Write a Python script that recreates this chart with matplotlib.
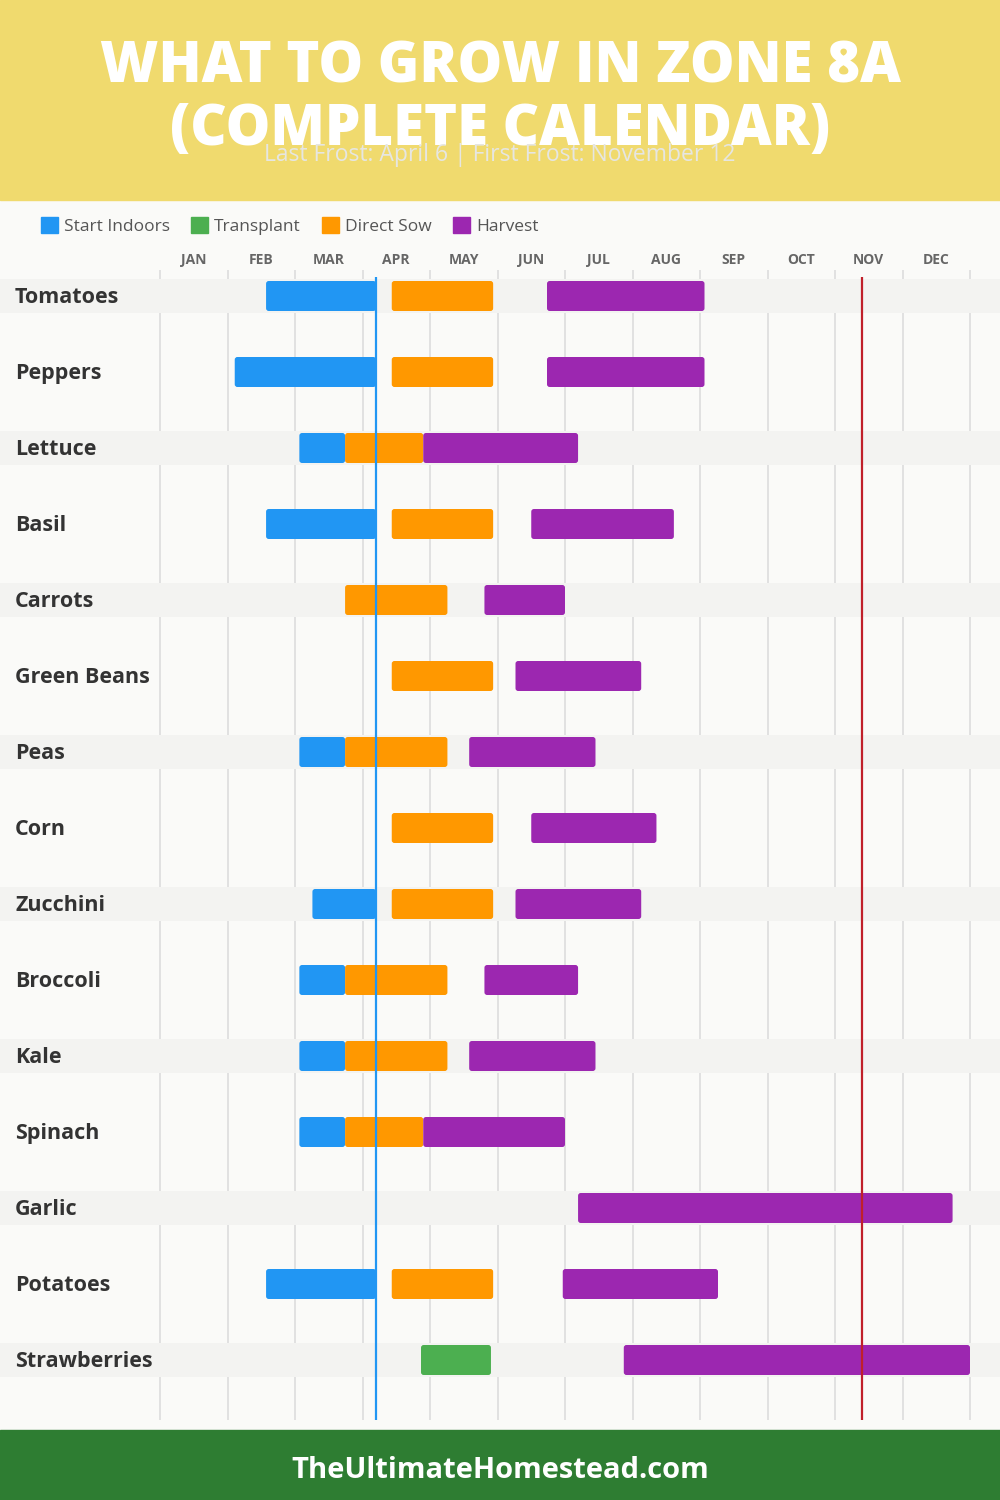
"""Zone 8a planting calendar: gantt-style rows of start/transplant/sow/harvest windows."""
import calendar

import matplotlib
matplotlib.use("Agg")
import matplotlib.pyplot as plt
from matplotlib.patches import FancyBboxPatch, Patch, Rectangle

# ---------------------------------------------------------------- data
MONTHS = ["JAN", "FEB", "MAR", "APR", "MAY", "JUN",
          "JUL", "AUG", "SEP", "OCT", "NOV", "DEC"]
CROPS = ["Tomatoes", "Peppers", "Lettuce", "Basil", "Carrots", "Green Beans",
         "Peas", "Corn", "Zucchini", "Broccoli", "Kale", "Spinach",
         "Garlic", "Potatoes", "Strawberries"]

# (start, end) as MM-DD, None where the crop has no such window
START_INDOORS = [("02-16", "04-06"), ("02-03", "04-06"), ("03-02", "03-23"),
                 ("02-16", "04-06"), None, None, ("03-02", "03-23"), None,
                 ("03-08", "04-06"), ("03-02", "03-23"), ("03-02", "03-23"),
                 ("03-02", "03-23"), None, ("02-16", "04-06"), None]
TRANSPLANT = [None] * 14 + [("04-26", "05-28")]
DIRECT_SOW = [("04-13", "05-29"), ("04-13", "05-29"), ("03-23", "04-27"),
              ("04-13", "05-29"), ("03-23", "05-08"), ("04-13", "05-29"),
              ("03-23", "05-08"), ("04-13", "05-29"), ("04-13", "05-29"),
              ("03-23", "05-08"), ("03-23", "05-08"), ("03-23", "04-27"),
              None, ("04-13", "05-29"), None]
HARVEST = [("06-22", "09-02"), ("06-22", "09-02"), ("04-27", "07-06"),
           ("06-15", "08-19"), ("05-25", "06-30"), ("06-08", "08-04"),
           ("05-18", "07-14"), ("06-15", "08-11"), ("06-08", "08-04"),
           ("05-25", "07-06"), ("05-18", "07-14"), ("04-27", "06-30"),
           ("07-06", "12-23"), ("06-29", "09-08"), ("07-27", "12-31")]

LAST_FROST = "04-06"
FIRST_FROST = "11-12"

SERIES = [("Start Indoors", START_INDOORS, "#2196F3"),
          ("Transplant", TRANSPLANT, "#4CAF50"),
          ("Direct Sow", DIRECT_SOW, "#FF9800"),
          ("Harvest", HARVEST, "#9C27B0")]

# ---------------------------------------------------------------- style
W, H = 1000, 1500
BG = "#FAFAF8"
BAND = "#F3F3F1"
HEADER = "#F0DA6E"
FOOTER = "#2E7D32"
FONT = ["Open Sans", "DejaVu Sans"]


def mpos(md):
    """'MM-DD' -> fractional month position (Jan 1 = 0)."""
    m, d = (int(v) for v in md.split("-"))
    return (m - 1) + d / calendar.monthrange(2023, m)[1]


def py(px):
    """figure pixel row (from top) -> figure fraction."""
    return 1 - px / H


fig = plt.figure(figsize=(W / 100, H / 100), dpi=100, facecolor=BG)

# header / footer bands
fig.patches.append(Rectangle((0, py(200)), 1, 200 / H, transform=fig.transFigure,
                             color=HEADER, zorder=0))
fig.patches.append(Rectangle((0, 0), 1, 70 / H, transform=fig.transFigure,
                             color=FOOTER, zorder=0))
fig.text(0.5, py(68), "WHAT TO GROW IN ZONE 8A", ha="center", va="center",
         fontsize=40.5, fontweight="heavy", color="white", family=FONT)
fig.text(0.5, py(130), "(COMPLETE CALENDAR)", ha="center", va="center",
         fontsize=40.5, fontweight="heavy", color="white", family=FONT)
fig.text(0.5, py(155), "Last Frost: April 6 | First Frost: November 12",
         ha="center", va="center", fontsize=16.5, color="#E6E6E2", family=FONT)
fig.text(0.5, py(1471), "TheUltimateHomestead.com", ha="center", va="center",
         fontsize=21, fontweight="bold", color="white", family=FONT)

# main axes: x in months, y in rows; pixel mapping 67.5 px/month, 76 px/row
TOP, BOT, ROW0, RH, X0, MW = 270, 1420, 296, 76, 160, 67.5
ax = fig.add_axes([0, py(BOT), 1, (BOT - TOP) / H])
ax.set_facecolor(BG)
ax.set_xlim(-X0 / MW, (W - X0) / MW)
ax.set_ylim((BOT - ROW0) / RH, (TOP - ROW0) / RH)
for s in ax.spines.values():
    s.set_visible(False)
ax.set_yticks([])

# month labels on top
ax.xaxis.tick_top()
ax.set_xticks([i + 0.5 for i in range(len(MONTHS))])
ax.set_xticklabels(MONTHS, fontsize=10, fontweight="bold", color="#666666",
                   family=FONT)
ax.tick_params(axis="x", length=0, pad=2)

for i in range(len(MONTHS) + 1):
    ax.axvline(i, color="#DDDDDD", lw=1.2, zorder=0.5)

band_h = 17 / RH
bar_h = 30 / RH
for r, crop in enumerate(CROPS):
    if r % 2 == 0:
        ax.axhspan(r - band_h, r + band_h, color=BAND, lw=0, zorder=1)
    ax.text(15 / MW - X0 / MW, r + 0.02, crop, ha="left", va="center",
            fontsize=15.5, fontweight="bold", color="#333333", family=FONT,
            zorder=4)

for name, spans, color in SERIES:
    for r, span in enumerate(spans):
        if span is None:
            continue
        a, b = mpos(span[0]), mpos(span[1])
        ax.add_patch(FancyBboxPatch((a, r - bar_h / 2), b - a, bar_h,
                                    boxstyle="round,pad=0,rounding_size=0.04",
                                    mutation_aspect=0.89, fc=color, ec="none",
                                    zorder=3))

frost_top = (277 - ROW0) / RH
ax.vlines(mpos(LAST_FROST), frost_top, (BOT - ROW0) / RH, color="#2196F3",
          lw=1.6, zorder=5)
ax.vlines(mpos(FIRST_FROST), frost_top, (BOT - ROW0) / RH, color="#C0202A",
          lw=1.6, zorder=5)

handles = [Patch(color=c, label=n) for n, _, c in SERIES]
fig.legend(handles=handles, loc="center left", bbox_to_anchor=(0.025, py(226)),
           ncol=4, frameon=False, handlelength=1.0, handleheight=1.0,
           handletextpad=0.35, columnspacing=1.2,
           prop={"family": FONT, "size": 12.5}, labelcolor="#555555")

fig.savefig("out.png", dpi=100, facecolor=BG)
